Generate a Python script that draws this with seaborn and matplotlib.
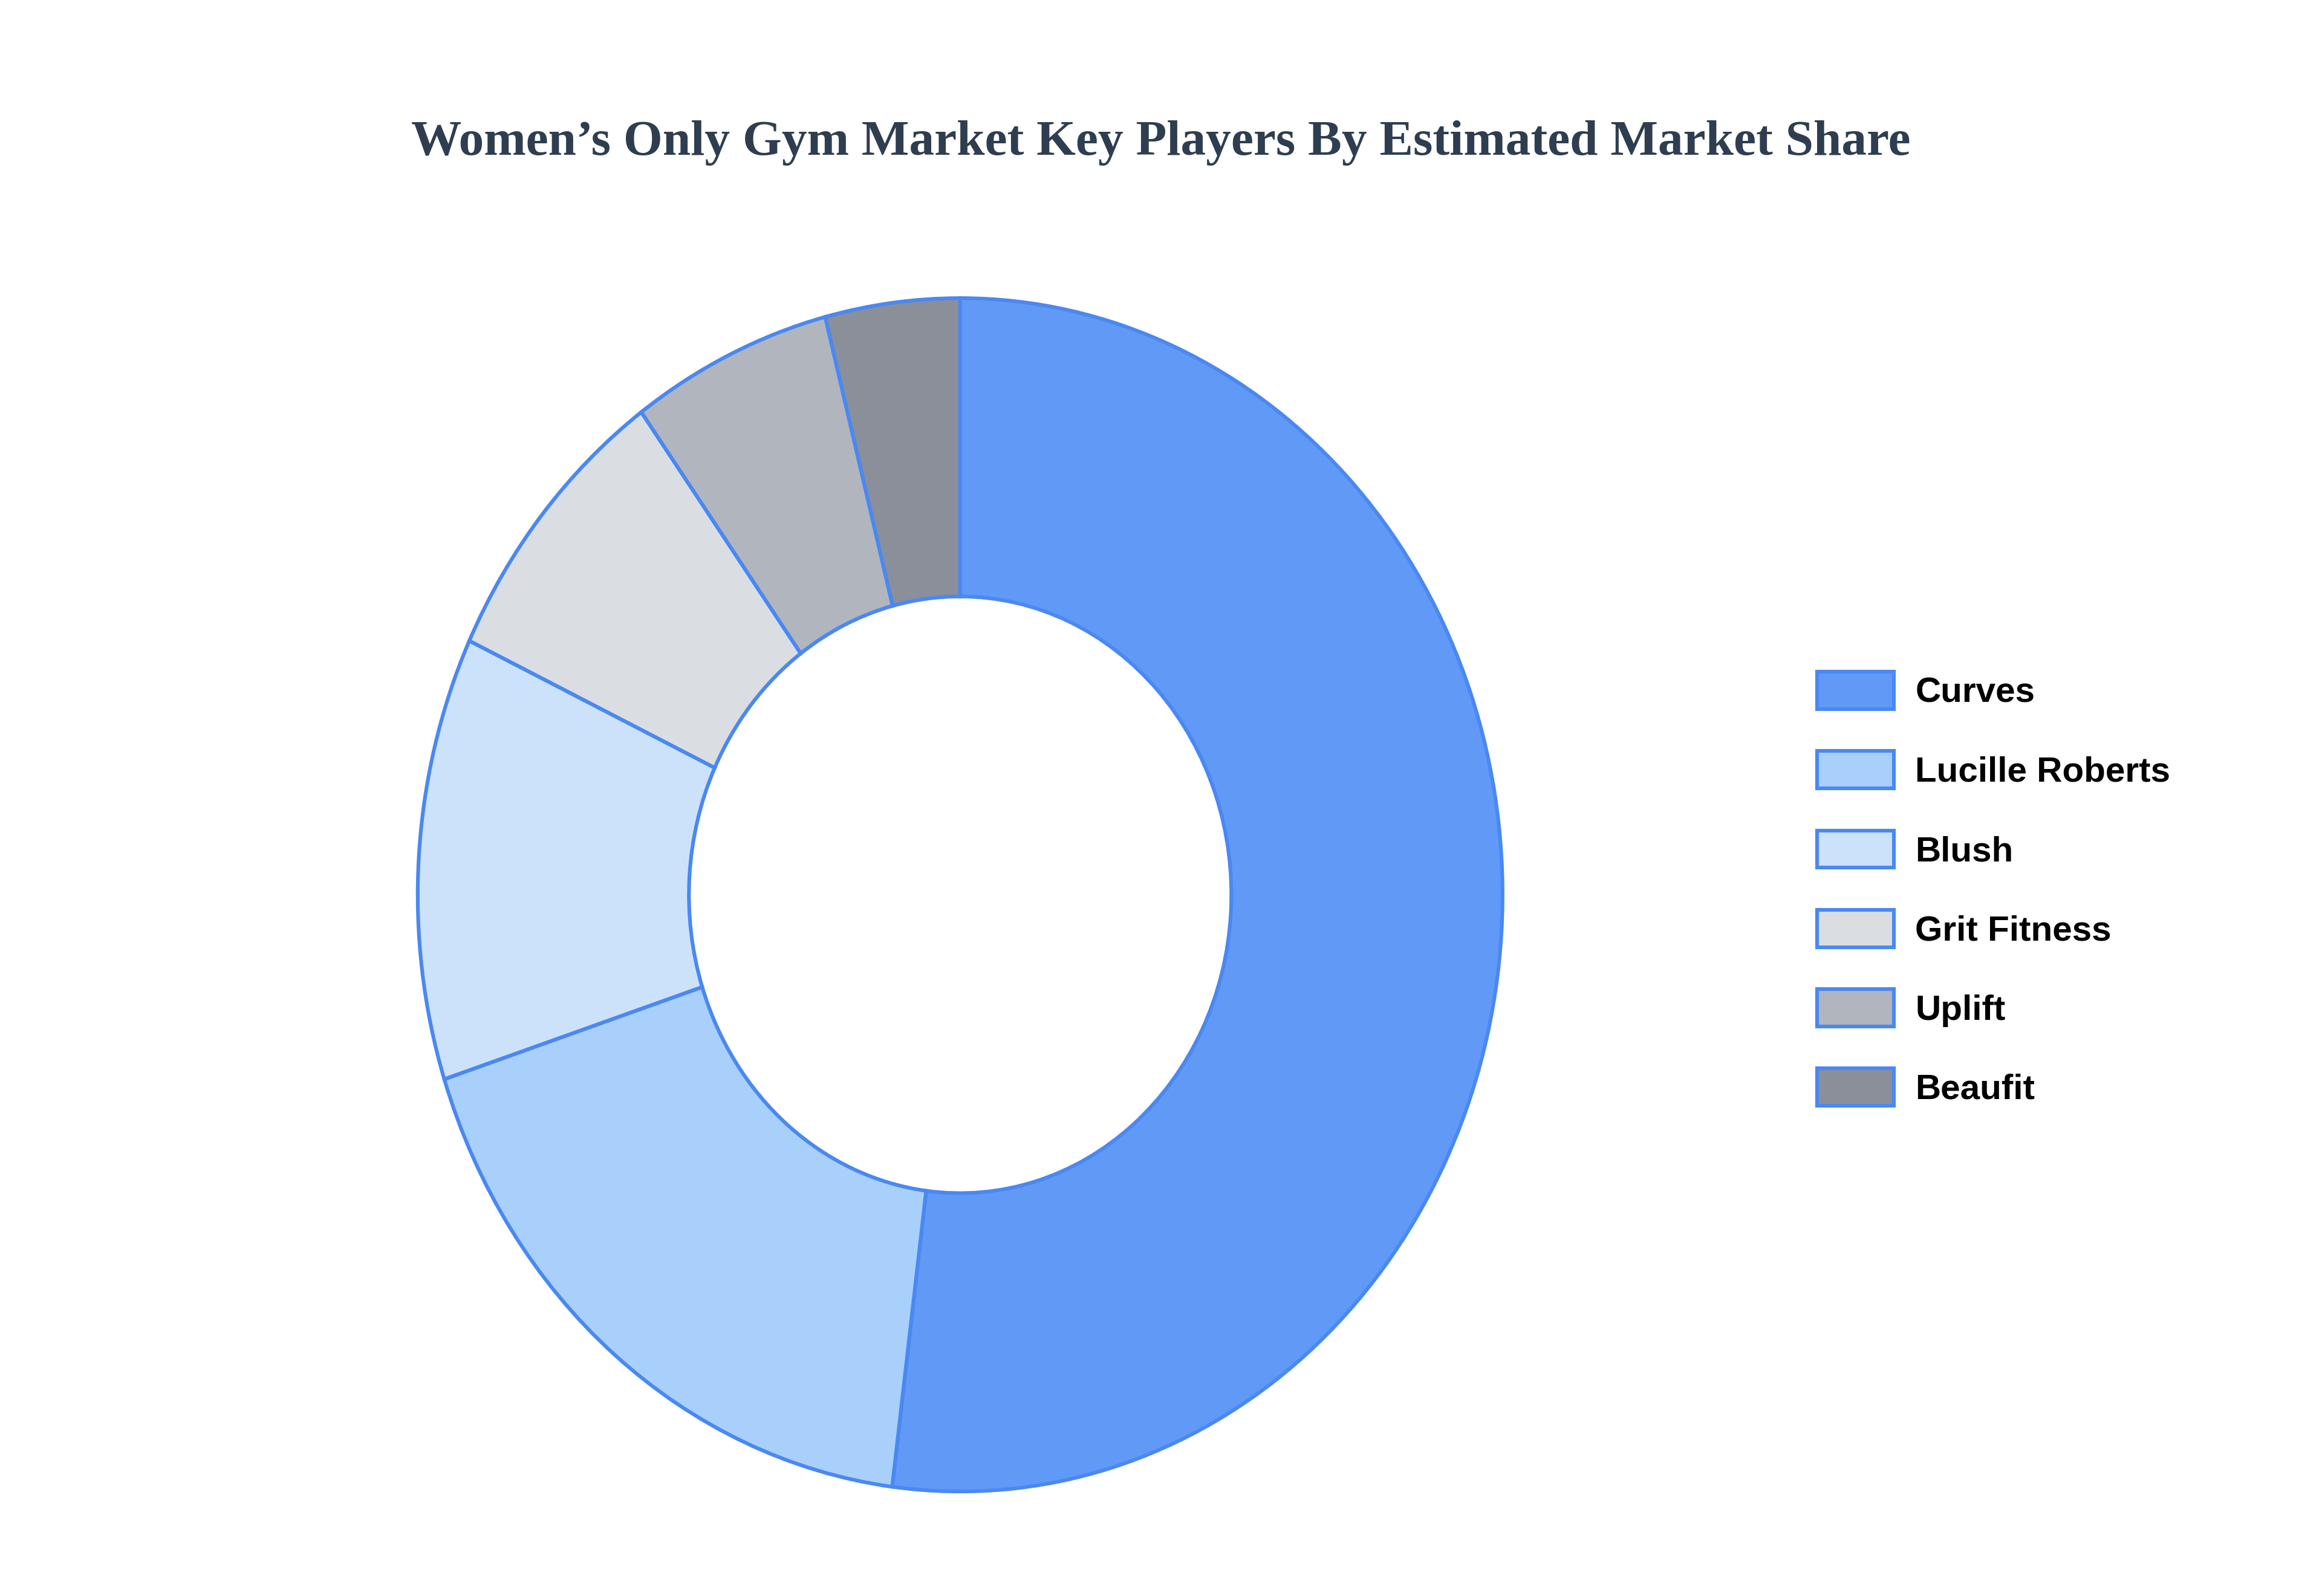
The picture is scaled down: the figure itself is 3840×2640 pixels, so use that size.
import matplotlib
matplotlib.use("Agg")
import matplotlib.pyplot as plt
import seaborn as sns

# market share estimates (%)
players = ["Curves", "Lucille Roberts", "Blush", "Grit Fitness", "Uplift", "Beaufit"]
shares = [52, 18, 12, 8, 6, 4]
colors = ["#6199F7", "#A8D0FB", "#CCE2FA", "#DADEE3", "#B0B5BE", "#8A8F9A"]
edge = "#4A88F2"

sns.set_theme(style="white")
palette = sns.color_palette(colors)

fig = plt.figure(figsize=(19.2, 13.2), dpi=200)
fig.patch.set_facecolor("white")

# donut is a little taller than wide in the original
ax = fig.add_axes([0.1799, 0.0655, 0.4672, 0.7477])
wedges, _ = ax.pie(
    shares,
    colors=palette,
    startangle=90,
    counterclock=False,
    wedgeprops=dict(width=0.5, edgecolor=edge, linewidth=2.2),
)
ax.set_aspect("auto")
ax.set_xlim(-1, 1)
ax.set_ylim(-1, 1)
ax.axis("off")

fig.text(0.5, 1 - 236 / 2640, "Women\u2019s Only Gym Market Key Players By Estimated Market Share",
         ha="center", va="center", fontsize=30, fontweight="bold",
         family="Liberation Serif", color="#2E3E50")

leg = fig.legend(
    wedges, players,
    loc="center left", bbox_to_anchor=(0.7826, 0.443),
    frameon=False, borderpad=0, borderaxespad=0,
    handlelength=2.18, handleheight=1.25, handletextpad=0.6,
    labelspacing=1.18, labelcolor="black",
    prop=dict(family="Liberation Sans", weight="bold", size=21),
)
for h in leg.legend_handles:
    h.set_edgecolor(edge)
    h.set_linewidth(2.2)

fig.savefig("out.png", dpi=200, facecolor="white")
